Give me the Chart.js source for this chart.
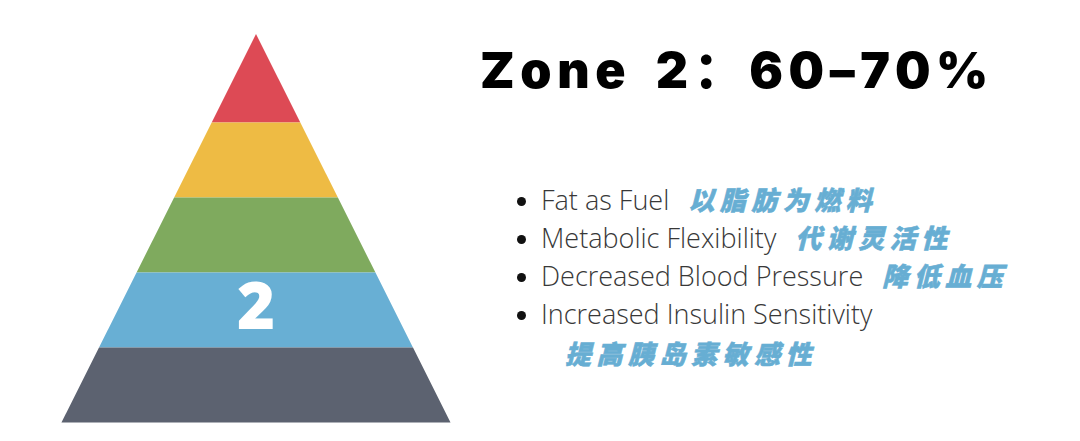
<!DOCTYPE html>
<html>
<head>
<meta charset="utf-8">
<script src="https://cdn.jsdelivr.net/npm/chart.js@4/dist/chart.umd.min.js"></script>
<style>
  html, body { margin: 0; padding: 0; background: #fff; }
  #wrap { position: relative; width: 1080px; height: 441px; overflow: hidden; }
  #pyramid { position: absolute; left: 0; top: 0; }
  .title {
    position: absolute; left: 480px; top: 30px;
    font-family: Inter, "Liberation Sans", sans-serif; font-weight: 900;
    font-size: 50px; letter-spacing: 5.6px; word-spacing: 9px; color: #000; white-space: nowrap;
  }
  .title .colon { font-family: "Noto Sans CJK SC"; font-weight: 900; }
  .item {
    position: absolute; left: 517px; white-space: nowrap;
    font-family: "Open Sans", sans-serif; font-weight: 300; font-size: 27px; color: #383838;
  }
  .item .dot {
    display: inline-block; width: 9px; height: 9px; border-radius: 50%;
    background: #111; margin-right: 15px; vertical-align: 4px;
  }
  .cn {
    font-family: "Noto Sans CJK SC", sans-serif; font-weight: 900; font-style: italic;
    font-size: 26px; letter-spacing: 5.5px; color: #67aed3; margin-left: 19px;
    -webkit-text-stroke: 0.6px #67aed3;
  }
</style>
</head>
<body>
<div id="wrap">
  <canvas id="pyramid" width="512" height="441"></canvas>
  <div class="title" id="title"></div>
  <div id="list"></div>
</div>
<script>
// ===== data =====
const bandLevels = [0, 1, 2, 3, 4, 5.18];   // band boundaries, bottom to top
const zoneNumbers = [1, 2, 3, 4, 5];
const bandColors = ["#5c6270", "#68afd4", "#7faa5e", "#eebb44", "#dd4a55"];
const activeZone = 2;

const titleText = "Zone 2";
const titleRange = "60–70%";
const benefitsEn = ["Fat as Fuel", "Metabolic Flexibility", "Decreased Blood Pressure", "Increased Insulin Sensitivity"];
const benefitsCn = ["以脂肪为燃料", "代谢灵活性", "降低血压", "提高胰岛素敏感性"];

// ===== pyramid =====
const apex = bandLevels[bandLevels.length - 1];
function halfWidth(level) {
    return 1 - level / apex;
}

const datasets = zoneNumbers.map((z, i) => {
    let lo = bandLevels[i], hi = bandLevels[i + 1];
    return {
        label: "Zone " + z,
        data: [
            { x: -halfWidth(lo), y: lo },
            { x: -halfWidth(hi), y: hi },
            { x: halfWidth(hi), y: hi },
            { x: halfWidth(lo), y: lo },
            { x: -halfWidth(lo), y: lo }
        ],
        showLine: true,
        fill: "shape",
        backgroundColor: bandColors[i],
        borderColor: bandColors[i],
        borderWidth: 0,
        pointRadius: 0,
        tension: 0
    };
});

const zoneLabelPlugin = {
    id: "zoneLabel",
    afterDatasetsDraw(chart) {
        const ctx = chart.ctx;
        const i = zoneNumbers.indexOf(activeZone);
        const mid = (bandLevels[i] + bandLevels[i + 1]) / 2;
        const x = chart.scales.x.getPixelForValue(0);
        const y = chart.scales.y.getPixelForValue(mid);
        ctx.save();
        ctx.fillStyle = "#ffffff";
        ctx.font = "800 65px 'Open Sans'";
        ctx.textAlign = "center";
        ctx.textBaseline = "alphabetic";
        ctx.fillText(String(activeZone), x, y + 19);
        ctx.restore();
    }
};

new Chart(document.getElementById("pyramid"), {
    type: "scatter",
    data: { datasets: datasets },
    options: {
        responsive: false,
        animation: false,
        layout: { padding: 0 },
        plugins: { legend: { display: false }, tooltip: { enabled: false } },
        scales: {
            x: { display: false, min: -1.316, max: 1.316 },
            y: { display: false, min: -0.247, max: 5.633 }
        }
    },
    plugins: [zoneLabelPlugin]
});

// ===== text =====
document.getElementById("title").innerHTML =
    titleText + '<span class="colon">：</span>' + titleRange;

const list = document.getElementById("list");
const baselines = [209, 247, 285, 324];
benefitsEn.forEach((txt, i) => {
    let cn = benefitsCn[i];
    let div = document.createElement("div");
    div.className = "item";
    div.style.top = (baselines[i] - 29) + "px";
    if (i < 3) {
        div.innerHTML = '<span class="dot"></span>' + txt + '<span class="cn">' + cn + '</span>';
    } else {
        div.innerHTML = '<span class="dot"></span>' + txt;
    }
    list.appendChild(div);
});
let last = document.createElement("div");
last.className = "item";
last.style.top = "334px";
last.style.left = "565px";
last.innerHTML = '<span class="cn" style="margin-left:0">' + benefitsCn[3] + '</span>';
list.appendChild(last);
</script>
</body>
</html>
